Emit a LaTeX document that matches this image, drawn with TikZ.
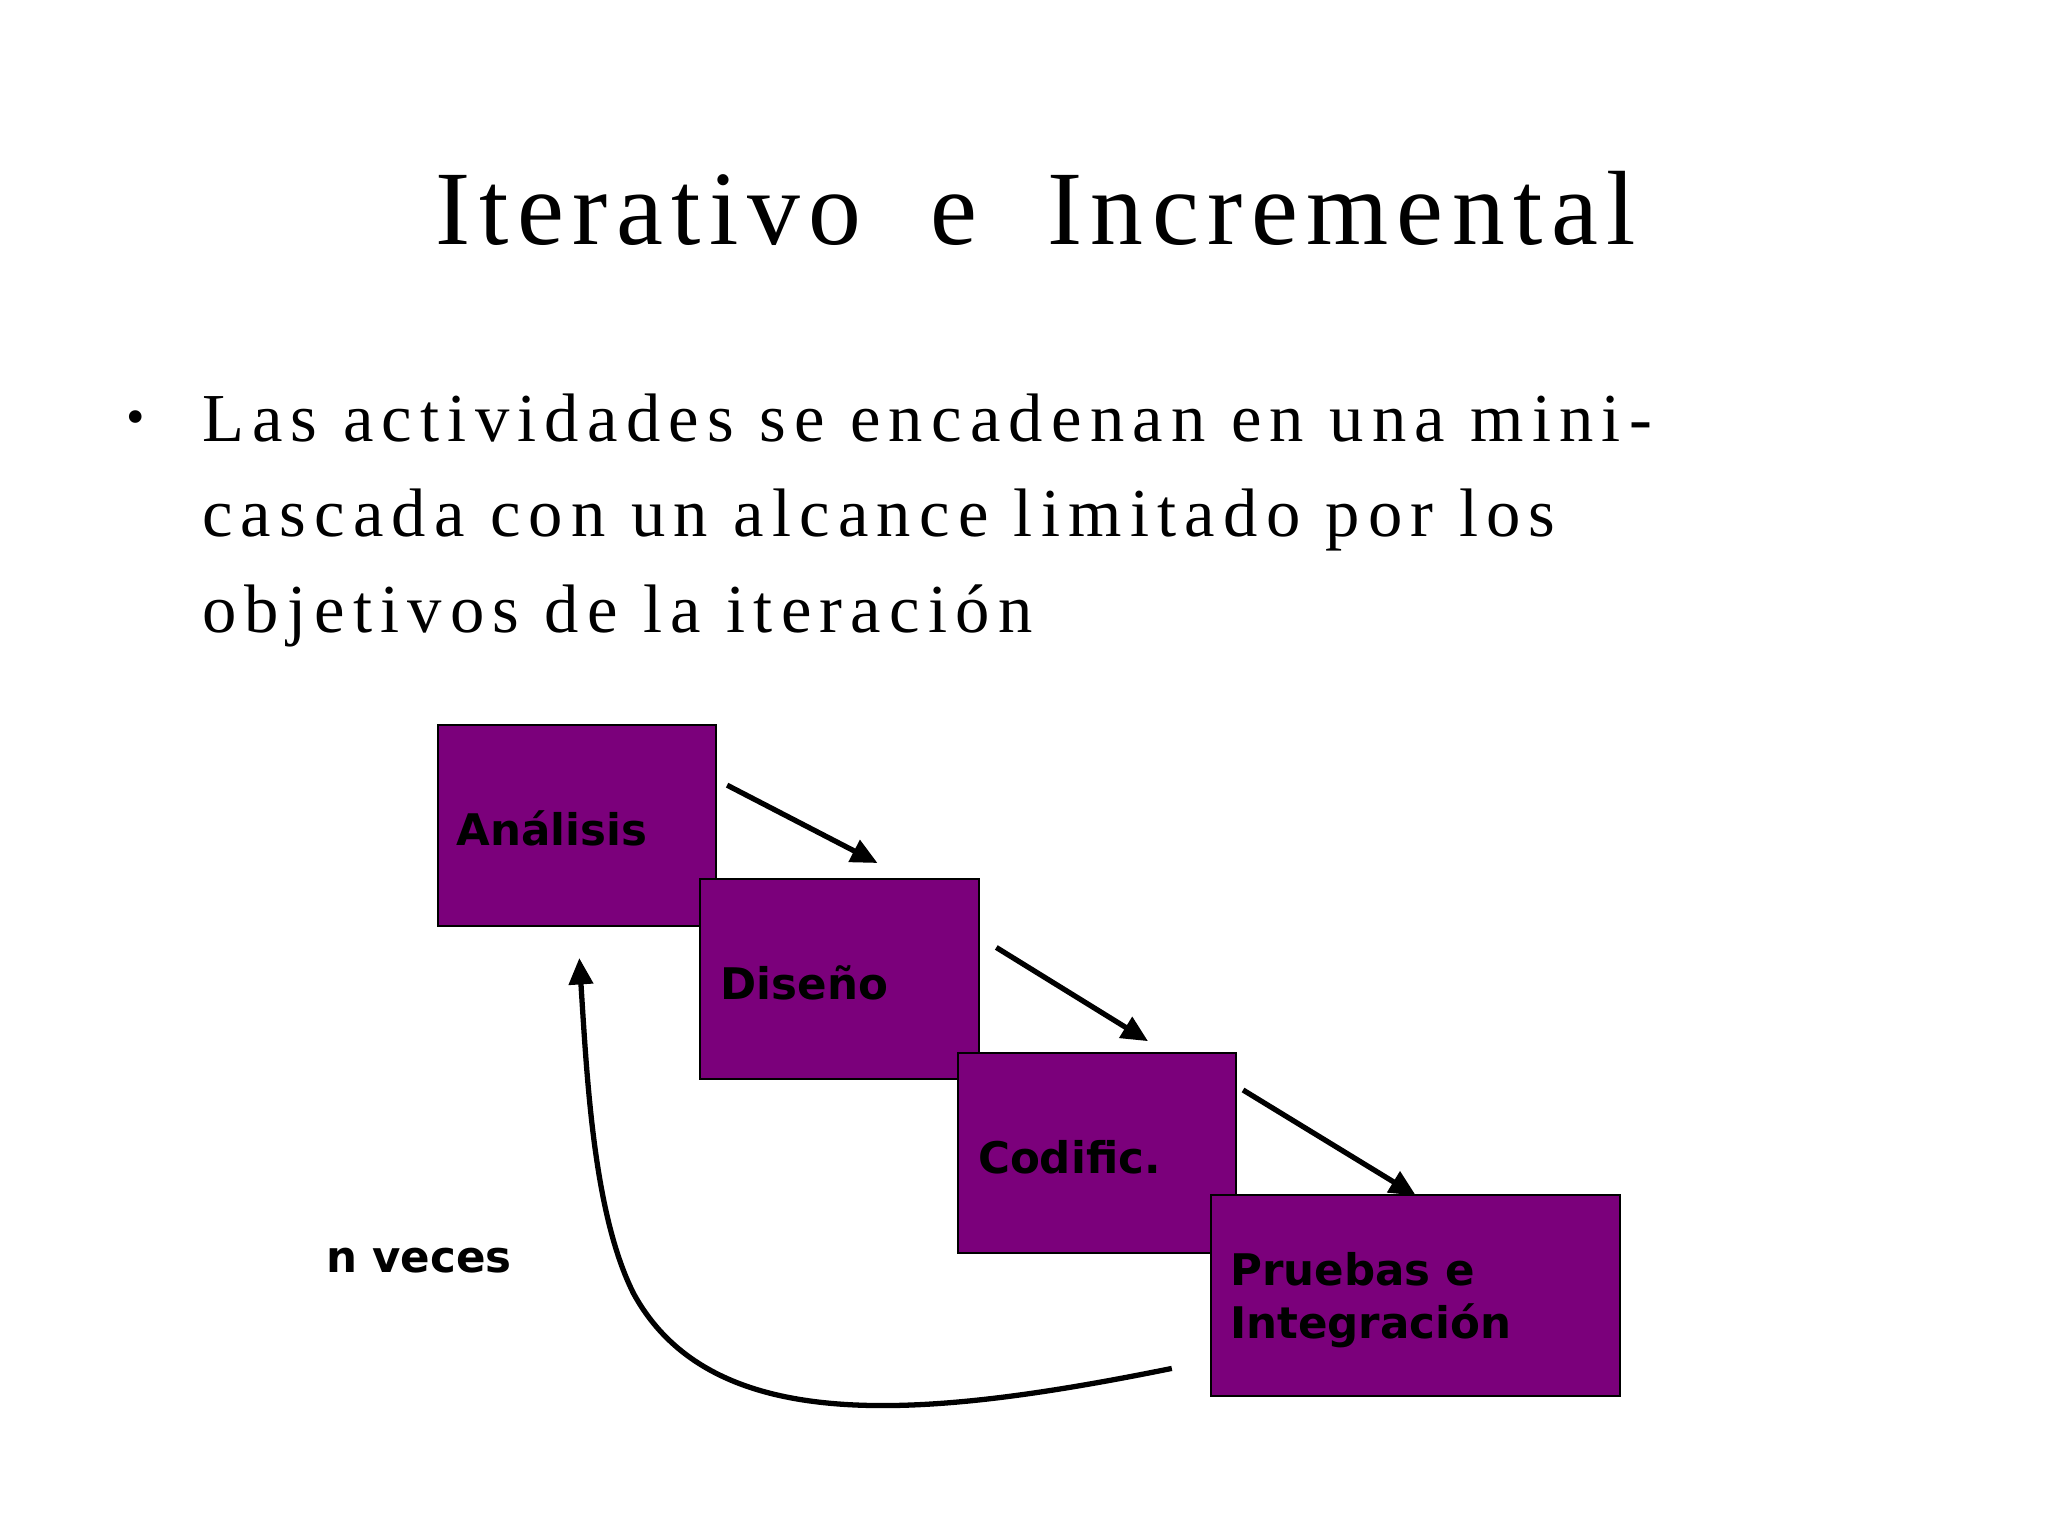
\documentclass[tikz,border=0pt]{standalone}
\usepackage{fontspec}
\setmainfont{Liberation Serif}
\newfontfamily\boxfont{DejaVu Sans}
\usetikzlibrary{positioning,arrows.meta}
\definecolor{fasepurple}{RGB}{123,0,123}
\tikzset{
  fase/.style={draw=black,line width=1.5pt,fill=fasepurple,minimum width=211pt,minimum height=152pt,
    anchor=north west,inner sep=0pt},
  fasetxt/.style={font=\boxfont\bfseries\fontsize{33}{40}\selectfont,align=left,anchor=west,inner sep=0pt},
  flecha/.style={line width=4pt,-{Triangle[length=20pt,width=18pt]}}
}
\begin{document}
\begin{tikzpicture}[x=1pt,y=-1pt]
  \useasboundingbox[fill=white] (0,0) rectangle (1552,1164);
  % title and text
  \node[font=\fontsize{80}{90}\selectfont\addfontfeature{LetterSpace=8}] (titulo) at (785,158) {Iterativo \ e \ Incremental};
  \node (vineta) at (103,320) {\fontsize{40}{40}\selectfont\textbullet};
  \node[anchor=north west,inner sep=0pt,align=left,
    font=\fontsize{52}{72.5}\selectfont\addfontfeature{LetterSpace=12}] (texto) at (153,298)
    {Las actividades se encadenan en una mini-\\
     cascada con un alcance limitado por los\\
     objetivos de la iteración};
  % boxes
  \node[fase] (ana) at (331,549) {};
  \node[fase] (dis) at (530,665) {};
  \node[fase] (cod) at (725,797) {};
  \node[fase,minimum width=310pt] (pru) at (917,905) {};
  \node[fasetxt] (tana) at (346,628) {Análisis};
  \node[fasetxt] (tdis) at (546,745) {Diseño};
  \node[fasetxt] (tcod) at (741,877) {Codific.};
  \node[fasetxt] (tpru) at (932,985) {Pruebas e\\Integración};
  \node[fasetxt] (veces) at (247,955) {n veces};
  % arrows
  \coordinate (a1) at (551,595); \coordinate (a2) at (665,654);
  \coordinate (b1) at (755,718); \coordinate (b2) at (870,789);
  \coordinate (c1) at (942,826); \coordinate (c2) at (1073,906);
  \coordinate (r1) at (888,1037); \coordinate (r2) at (439,726);
  \draw[flecha] (a1) -- (a2);
  \draw[flecha] (b1) -- (b2);
  \draw[flecha] (c1) -- (c2);
  \draw[flecha] (r1) .. controls (700,1075) and (540,1090) .. (480,980) .. controls (450,920) and (445,820) .. (r2);
\end{tikzpicture}
\end{document}
